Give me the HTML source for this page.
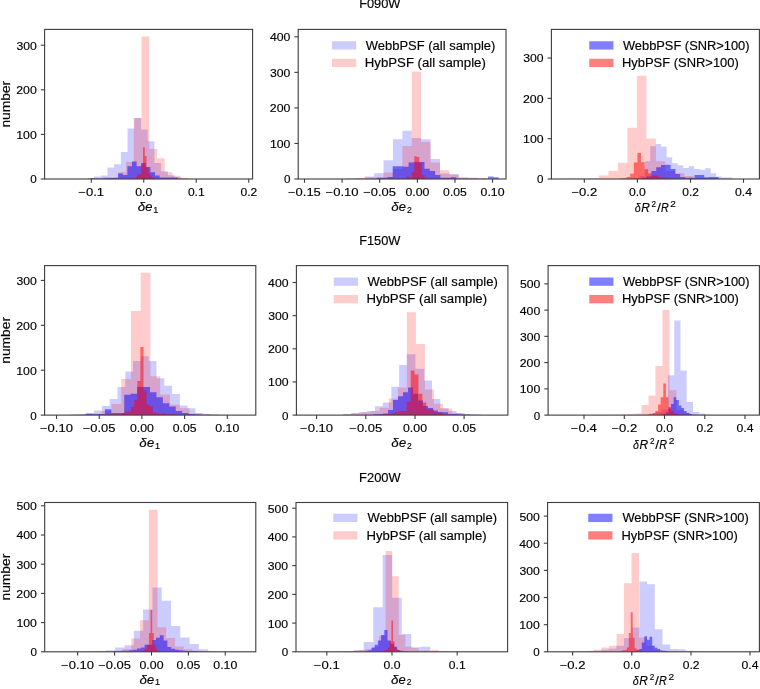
<!DOCTYPE html><html><head><meta charset="utf-8"><style>html,body{margin:0;padding:0;background:#fff;width:760px;height:689px;overflow:hidden}svg{display:block;will-change:transform}text{font-family:"Liberation Sans",sans-serif;stroke:#000;stroke-width:0.15px}</style></head><body>
<svg width="760" height="689" viewBox="0 0 760 689">
<rect width="760" height="689" fill="#fff"/>
<text x="359.15" y="8.30" font-size="12.0" textLength="41.29" lengthAdjust="spacingAndGlyphs" fill="#000">F090W</text>
<text x="359.15" y="245.30" font-size="12.0" textLength="41.29" lengthAdjust="spacingAndGlyphs" fill="#000">F150W</text>
<text x="359.14" y="481.90" font-size="12.0" textLength="41.60" lengthAdjust="spacingAndGlyphs" fill="#000">F200W</text>
<clipPath id="cp00"><rect x="44.6" y="29.4" width="208.0" height="149.6"/></clipPath>
<g clip-path="url(#cp00)">
<path d="M80.56,179.0L80.56,178.70L87.28,178.70L87.28,178.50L94.00,178.50L94.00,176.60L100.72,176.60L100.72,175.40L107.44,175.40L107.44,167.60L114.16,167.60L114.16,164.20L120.88,164.20L120.88,152.10L127.60,152.10L127.60,128.40L134.32,128.40L134.32,118.00L141.04,118.00L141.04,129.50L147.76,129.50L147.76,141.30L154.48,141.30L154.48,163.00L161.20,163.00L161.20,171.20L167.92,171.20L167.92,175.20L174.64,175.20L174.64,177.20L181.36,177.20L181.36,178.50L188.08,178.50L188.08,179.0Z" fill="#0000ff" fill-opacity="0.2"/>
<path d="M87.25,179.0L87.25,178.50L95.00,178.50L95.00,178.50L102.75,178.50L102.75,177.30L110.50,177.30L110.50,177.50L118.25,177.50L118.25,172.20L126.00,172.20L126.00,162.00L133.75,162.00L133.75,118.00L141.50,118.00L141.50,36.60L149.25,36.60L149.25,148.90L157.00,148.90L157.00,158.30L164.75,158.30L164.75,172.20L172.50,172.20L172.50,175.80L180.25,175.80L180.25,177.80L188.00,177.80L188.00,178.70L195.75,178.70L195.75,179.0Z" fill="#ff0000" fill-opacity="0.2"/>
<path d="M90.60,179.0L90.60,178.20L95.20,178.20L95.20,178.40L99.80,178.40L99.80,178.50L104.40,178.50L104.40,178.20L109.00,178.20L109.00,178.10L113.60,178.10L113.60,177.80L118.20,177.80L118.20,173.60L122.80,173.60L122.80,175.10L127.40,175.10L127.40,166.20L132.00,166.20L132.00,161.40L136.60,161.40L136.60,166.20L141.20,166.20L141.20,162.90L145.80,162.90L145.80,167.00L150.40,167.00L150.40,172.20L155.00,172.20L155.00,175.50L159.60,175.50L159.60,177.60L164.20,177.60L164.20,177.60L168.80,177.60L168.80,177.60L173.40,177.60L173.40,177.60L178.00,177.60L178.00,179.0Z" fill="#0000ff" fill-opacity="0.5"/>
<path d="M126.80,179.0L126.80,178.60L128.60,178.60L128.60,178.50L130.40,178.50L130.40,178.40L132.20,178.40L132.20,178.40L134.00,178.40L134.00,178.30L135.80,178.30L135.80,176.50L137.60,176.50L137.60,174.50L139.40,174.50L139.40,173.90L141.20,173.90L141.20,164.40L143.00,164.40L143.00,147.20L144.80,147.20L144.80,156.10L146.60,156.10L146.60,167.40L148.40,167.40L148.40,173.50L150.20,173.50L150.20,175.80L152.00,175.80L152.00,177.50L153.80,177.50L153.80,178.20L155.60,178.20L155.60,178.50L157.40,178.50L157.40,179.0Z" fill="#ff0000" fill-opacity="0.5"/>
</g>
<rect x="44.6" y="29.4" width="208.00" height="149.60" fill="none" stroke="#3c3c3c" stroke-width="1.1"/>
<line x1="40.80" y1="179.0" x2="44.6" y2="179.0" stroke="#3c3c3c" stroke-width="1.1"/>
<text x="30.29" y="183.40" font-size="11.6" textLength="6.45" lengthAdjust="spacingAndGlyphs" fill="#000">0</text>
<line x1="40.80" y1="134.4" x2="44.6" y2="134.4" stroke="#3c3c3c" stroke-width="1.1"/>
<text x="16.30" y="138.80" font-size="11.6" textLength="20.47" lengthAdjust="spacingAndGlyphs" fill="#000">100</text>
<line x1="40.80" y1="89.8" x2="44.6" y2="89.8" stroke="#3c3c3c" stroke-width="1.1"/>
<text x="16.23" y="94.20" font-size="11.6" textLength="20.55" lengthAdjust="spacingAndGlyphs" fill="#000">200</text>
<line x1="40.80" y1="45.2" x2="44.6" y2="45.2" stroke="#3c3c3c" stroke-width="1.1"/>
<text x="16.41" y="49.60" font-size="11.6" textLength="20.36" lengthAdjust="spacingAndGlyphs" fill="#000">300</text>
<line x1="91.25" y1="179.0" x2="91.25" y2="182.80" stroke="#3c3c3c" stroke-width="1.1"/>
<text x="78.34" y="195.80" font-size="11.6" textLength="25.81" lengthAdjust="spacingAndGlyphs" fill="#000">−0.1</text>
<line x1="143.75" y1="179.0" x2="143.75" y2="182.80" stroke="#3c3c3c" stroke-width="1.1"/>
<text x="135.25" y="195.80" font-size="11.6" textLength="16.99" lengthAdjust="spacingAndGlyphs" fill="#000">0.0</text>
<line x1="196.25" y1="179.0" x2="196.25" y2="182.80" stroke="#3c3c3c" stroke-width="1.1"/>
<text x="187.90" y="195.80" font-size="11.6" textLength="16.82" lengthAdjust="spacingAndGlyphs" fill="#000">0.1</text>
<line x1="248.75" y1="179.0" x2="248.75" y2="182.80" stroke="#3c3c3c" stroke-width="1.1"/>
<text x="240.44" y="195.80" font-size="11.6" textLength="16.76" lengthAdjust="spacingAndGlyphs" fill="#000">0.2</text>
<text x="137.77" y="210.80" font-size="12.4" font-style="italic" textLength="7.40" lengthAdjust="spacingAndGlyphs" fill="#000">δ</text>
<text x="145.37" y="210.80" font-size="12.4" font-style="italic" textLength="7.19" lengthAdjust="spacingAndGlyphs" fill="#000">e</text>
<text x="153.31" y="212.60" font-size="8.6" textLength="5.02" lengthAdjust="spacingAndGlyphs" fill="#000">1</text>
<g transform="translate(9.6,104.20) rotate(-90)">
<text x="-23.41" y="0" font-size="12.0" textLength="46.83" lengthAdjust="spacingAndGlyphs">number</text>
</g>
<clipPath id="cp01"><rect x="298.2" y="29.4" width="207.8" height="149.6"/></clipPath>
<g clip-path="url(#cp01)">
<path d="M345.88,179.0L345.88,178.60L355.29,178.60L355.29,178.30L364.70,178.30L364.70,176.50L374.11,176.50L374.11,173.30L383.52,173.30L383.52,160.30L392.93,160.30L392.93,139.30L402.34,139.30L402.34,130.80L411.75,130.80L411.75,137.90L421.16,137.90L421.16,139.20L430.57,139.20L430.57,159.10L439.98,159.10L439.98,173.50L449.39,173.50L449.39,174.10L458.80,174.10L458.80,177.80L468.21,177.80L468.21,177.80L477.62,177.80L477.62,178.70L487.03,178.70L487.03,179.0Z" fill="#0000ff" fill-opacity="0.2"/>
<path d="M345.88,179.0L345.88,178.70L355.29,178.70L355.29,178.00L364.70,178.00L364.70,177.30L374.11,177.30L374.11,177.60L383.52,177.60L383.52,172.50L392.93,172.50L392.93,169.00L402.34,169.00L402.34,145.90L411.75,145.90L411.75,71.50L421.16,71.50L421.16,142.00L430.57,142.00L430.57,162.60L439.98,162.60L439.98,170.20L449.39,170.20L449.39,174.80L458.80,174.80L458.80,177.30L468.21,177.30L468.21,178.50L477.62,178.50L477.62,178.10L487.03,178.10L487.03,179.0Z" fill="#ff0000" fill-opacity="0.2"/>
<path d="M371.50,179.0L371.50,178.70L376.80,178.70L376.80,177.80L382.10,177.80L382.10,177.80L387.40,177.80L387.40,176.90L392.70,176.90L392.70,166.20L398.00,166.20L398.00,166.20L403.30,166.20L403.30,166.80L408.60,166.80L408.60,162.50L413.90,162.50L413.90,161.90L419.20,161.90L419.20,161.90L424.50,161.90L424.50,168.80L429.80,168.80L429.80,171.00L435.10,171.00L435.10,175.00L440.40,175.00L440.40,177.80L445.70,177.80L445.70,177.80L451.00,177.80L451.00,177.20L456.30,177.20L456.30,178.70L461.60,178.70L461.60,178.70L466.90,178.70L466.90,178.70L472.20,178.70L472.20,178.70L477.50,178.70L477.50,179.00L482.80,179.00L482.80,178.80L488.10,178.80L488.10,176.60L493.40,176.60L493.40,177.20L498.70,177.20L498.70,179.0Z" fill="#0000ff" fill-opacity="0.5"/>
<path d="M401.80,179.0L401.80,178.50L404.30,178.50L404.30,178.20L406.80,178.20L406.80,176.60L409.30,176.60L409.30,177.80L411.80,177.80L411.80,172.10L414.30,172.10L414.30,156.20L416.80,156.20L416.80,157.00L419.30,157.00L419.30,163.10L421.80,163.10L421.80,175.30L424.30,175.30L424.30,177.50L426.80,177.50L426.80,178.00L429.30,178.00L429.30,178.20L431.80,178.20L431.80,178.50L434.30,178.50L434.30,179.0Z" fill="#ff0000" fill-opacity="0.5"/>
</g>
<rect x="298.2" y="29.4" width="207.80" height="149.60" fill="none" stroke="#3c3c3c" stroke-width="1.1"/>
<line x1="294.40" y1="179.0" x2="298.2" y2="179.0" stroke="#3c3c3c" stroke-width="1.1"/>
<text x="283.89" y="183.40" font-size="11.6" textLength="6.45" lengthAdjust="spacingAndGlyphs" fill="#000">0</text>
<line x1="294.40" y1="143.45" x2="298.2" y2="143.45" stroke="#3c3c3c" stroke-width="1.1"/>
<text x="269.90" y="147.85" font-size="11.6" textLength="20.47" lengthAdjust="spacingAndGlyphs" fill="#000">100</text>
<line x1="294.40" y1="107.9" x2="298.2" y2="107.9" stroke="#3c3c3c" stroke-width="1.1"/>
<text x="269.83" y="112.30" font-size="11.6" textLength="20.55" lengthAdjust="spacingAndGlyphs" fill="#000">200</text>
<line x1="294.40" y1="72.35" x2="298.2" y2="72.35" stroke="#3c3c3c" stroke-width="1.1"/>
<text x="270.01" y="76.75" font-size="11.6" textLength="20.36" lengthAdjust="spacingAndGlyphs" fill="#000">300</text>
<line x1="294.40" y1="36.8" x2="298.2" y2="36.8" stroke="#3c3c3c" stroke-width="1.1"/>
<text x="269.90" y="41.20" font-size="11.6" textLength="20.48" lengthAdjust="spacingAndGlyphs" fill="#000">400</text>
<line x1="304.5" y1="179.0" x2="304.5" y2="182.80" stroke="#3c3c3c" stroke-width="1.1"/>
<text x="288.07" y="195.80" font-size="11.6" textLength="32.76" lengthAdjust="spacingAndGlyphs" fill="#000">−0.15</text>
<line x1="342.1" y1="179.0" x2="342.1" y2="182.80" stroke="#3c3c3c" stroke-width="1.1"/>
<text x="325.55" y="195.80" font-size="11.6" textLength="32.96" lengthAdjust="spacingAndGlyphs" fill="#000">−0.10</text>
<line x1="379.7" y1="179.0" x2="379.7" y2="182.80" stroke="#3c3c3c" stroke-width="1.1"/>
<text x="363.27" y="195.80" font-size="11.6" textLength="32.76" lengthAdjust="spacingAndGlyphs" fill="#000">−0.05</text>
<line x1="417.4" y1="179.0" x2="417.4" y2="182.80" stroke="#3c3c3c" stroke-width="1.1"/>
<text x="405.40" y="195.80" font-size="11.6" textLength="24.00" lengthAdjust="spacingAndGlyphs" fill="#000">0.00</text>
<line x1="455.0" y1="179.0" x2="455.0" y2="182.80" stroke="#3c3c3c" stroke-width="1.1"/>
<text x="443.12" y="195.80" font-size="11.6" textLength="23.80" lengthAdjust="spacingAndGlyphs" fill="#000">0.05</text>
<line x1="492.6" y1="179.0" x2="492.6" y2="182.80" stroke="#3c3c3c" stroke-width="1.1"/>
<text x="480.60" y="195.80" font-size="11.6" textLength="24.00" lengthAdjust="spacingAndGlyphs" fill="#000">0.10</text>
<text x="391.27" y="210.80" font-size="12.4" font-style="italic" textLength="7.40" lengthAdjust="spacingAndGlyphs" fill="#000">δ</text>
<text x="398.87" y="210.80" font-size="12.4" font-style="italic" textLength="7.19" lengthAdjust="spacingAndGlyphs" fill="#000">e</text>
<text x="407.07" y="212.60" font-size="8.6" textLength="4.76" lengthAdjust="spacingAndGlyphs" fill="#000">2</text>
<clipPath id="cp02"><rect x="551.4" y="29.4" width="208.0" height="149.6"/></clipPath>
<g clip-path="url(#cp02)">
<path d="M628.20,179.0L628.20,178.50L633.70,178.50L633.70,178.00L639.20,178.00L639.20,176.00L644.70,176.00L644.70,161.20L650.20,161.20L650.20,146.20L655.70,146.20L655.70,144.10L661.20,144.10L661.20,146.80L666.70,146.80L666.70,157.30L672.20,157.30L672.20,163.20L677.70,163.20L677.70,165.20L683.20,165.20L683.20,167.90L688.70,167.90L688.70,166.30L694.20,166.30L694.20,169.10L699.70,169.10L699.70,169.70L705.20,169.70L705.20,168.30L710.70,168.30L710.70,173.30L716.20,173.30L716.20,176.60L721.70,176.60L721.70,177.60L727.20,177.60L727.20,177.60L732.70,177.60L732.70,179.0Z" fill="#0000ff" fill-opacity="0.2"/>
<path d="M560.90,179.0L560.90,178.40L570.40,178.40L570.40,178.40L579.90,178.40L579.90,178.40L589.40,178.40L589.40,178.20L598.90,178.20L598.90,175.60L608.40,175.60L608.40,170.80L617.90,170.80L617.90,162.70L627.40,162.70L627.40,127.80L636.90,127.80L636.90,75.70L646.40,75.70L646.40,138.50L655.90,138.50L655.90,161.20L665.40,161.20L665.40,171.00L674.90,171.00L674.90,173.30L684.40,173.30L684.40,176.00L693.90,176.00L693.90,178.00L703.40,178.00L703.40,178.60L712.90,178.60L712.90,178.60L722.40,178.60L722.40,178.60L731.90,178.60L731.90,179.0Z" fill="#ff0000" fill-opacity="0.2"/>
<path d="M641.80,179.0L641.80,178.00L646.60,178.00L646.60,176.50L651.40,176.50L651.40,171.10L656.20,171.10L656.20,167.20L661.00,167.20L661.00,165.00L665.80,165.00L665.80,164.80L670.60,164.80L670.60,169.10L675.40,169.10L675.40,173.90L680.20,173.90L680.20,177.00L685.00,177.00L685.00,177.80L689.80,177.80L689.80,177.80L694.60,177.80L694.60,175.00L699.40,175.00L699.40,175.00L704.20,175.00L704.20,177.30L709.00,177.30L709.00,177.00L713.80,177.00L713.80,177.00L718.60,177.00L718.60,179.0Z" fill="#0000ff" fill-opacity="0.5"/>
<path d="M619.40,179.0L619.40,178.40L623.00,178.40L623.00,178.20L626.60,178.20L626.60,177.00L630.20,177.00L630.20,173.70L633.80,173.70L633.80,162.40L637.40,162.40L637.40,153.10L641.00,153.10L641.00,162.20L644.60,162.20L644.60,169.20L648.20,169.20L648.20,173.50L651.80,173.50L651.80,175.80L655.40,175.80L655.40,175.80L659.00,175.80L659.00,177.40L662.60,177.40L662.60,177.40L666.20,177.40L666.20,178.00L669.80,178.00L669.80,178.50L673.40,178.50L673.40,179.0Z" fill="#ff0000" fill-opacity="0.5"/>
</g>
<rect x="551.4" y="29.4" width="208.00" height="149.60" fill="none" stroke="#3c3c3c" stroke-width="1.1"/>
<line x1="547.60" y1="179.0" x2="551.4" y2="179.0" stroke="#3c3c3c" stroke-width="1.1"/>
<text x="537.09" y="183.40" font-size="11.6" textLength="6.45" lengthAdjust="spacingAndGlyphs" fill="#000">0</text>
<line x1="547.60" y1="138.7" x2="551.4" y2="138.7" stroke="#3c3c3c" stroke-width="1.1"/>
<text x="523.10" y="143.10" font-size="11.6" textLength="20.47" lengthAdjust="spacingAndGlyphs" fill="#000">100</text>
<line x1="547.60" y1="98.4" x2="551.4" y2="98.4" stroke="#3c3c3c" stroke-width="1.1"/>
<text x="523.03" y="102.80" font-size="11.6" textLength="20.55" lengthAdjust="spacingAndGlyphs" fill="#000">200</text>
<line x1="547.60" y1="58.05" x2="551.4" y2="58.05" stroke="#3c3c3c" stroke-width="1.1"/>
<text x="523.21" y="62.45" font-size="11.6" textLength="20.36" lengthAdjust="spacingAndGlyphs" fill="#000">300</text>
<line x1="584.3" y1="179.0" x2="584.3" y2="182.80" stroke="#3c3c3c" stroke-width="1.1"/>
<text x="571.43" y="195.80" font-size="11.6" textLength="25.76" lengthAdjust="spacingAndGlyphs" fill="#000">−0.2</text>
<line x1="637.4" y1="179.0" x2="637.4" y2="182.80" stroke="#3c3c3c" stroke-width="1.1"/>
<text x="628.90" y="195.80" font-size="11.6" textLength="16.99" lengthAdjust="spacingAndGlyphs" fill="#000">0.0</text>
<line x1="690.5" y1="179.0" x2="690.5" y2="182.80" stroke="#3c3c3c" stroke-width="1.1"/>
<text x="682.19" y="195.80" font-size="11.6" textLength="16.76" lengthAdjust="spacingAndGlyphs" fill="#000">0.2</text>
<line x1="743.5" y1="179.0" x2="743.5" y2="182.80" stroke="#3c3c3c" stroke-width="1.1"/>
<text x="734.94" y="195.80" font-size="11.6" textLength="17.00" lengthAdjust="spacingAndGlyphs" fill="#000">0.4</text>
<text x="634.76" y="212.40" font-size="12.4" font-style="italic" textLength="5.94" lengthAdjust="spacingAndGlyphs" fill="#000">δ</text>
<text x="641.14" y="212.40" font-size="12.4" font-style="italic" textLength="8.62" lengthAdjust="spacingAndGlyphs" fill="#000">R</text>
<text x="651.59" y="207.40" font-size="8.6" textLength="4.51" lengthAdjust="spacingAndGlyphs" fill="#000">2</text>
<text x="657.00" y="212.40" font-size="12.4" textLength="3.90" lengthAdjust="spacingAndGlyphs" fill="#000">/</text>
<text x="660.98" y="212.40" font-size="12.4" font-style="italic" textLength="7.75" lengthAdjust="spacingAndGlyphs" fill="#000">R</text>
<text x="670.30" y="207.40" font-size="8.6" textLength="5.61" lengthAdjust="spacingAndGlyphs" fill="#000">2</text>
<clipPath id="cp10"><rect x="44.6" y="265.6" width="211.20000000000002" height="149.5"/></clipPath>
<g clip-path="url(#cp10)">
<path d="M70.70,415.1L70.70,414.60L78.50,414.60L78.50,414.10L86.30,414.10L86.30,413.10L94.10,413.10L94.10,410.60L101.90,410.60L101.90,406.00L109.70,406.00L109.70,399.10L117.50,399.10L117.50,387.10L125.30,387.10L125.30,371.60L133.10,371.60L133.10,361.10L140.90,361.10L140.90,356.30L148.70,356.30L148.70,360.90L156.50,360.90L156.50,378.20L164.30,378.20L164.30,385.80L172.10,385.80L172.10,394.00L179.90,394.00L179.90,405.40L187.70,405.40L187.70,408.30L195.50,408.30L195.50,413.10L203.30,413.10L203.30,414.10L211.10,414.10L211.10,414.60L218.90,414.60L218.90,415.1Z" fill="#0000ff" fill-opacity="0.2"/>
<path d="M62.70,415.1L62.70,414.70L72.45,414.70L72.45,414.60L82.20,414.60L82.20,414.30L91.95,414.30L91.95,413.60L101.70,413.60L101.70,411.10L111.45,411.10L111.45,404.10L121.20,404.10L121.20,379.00L130.95,379.00L130.95,311.10L140.70,311.10L140.70,272.80L150.45,272.80L150.45,376.30L160.20,376.30L160.20,394.60L169.95,394.60L169.95,404.70L179.70,404.70L179.70,408.30L189.45,408.30L189.45,413.60L199.20,413.60L199.20,414.10L208.95,414.10L208.95,414.60L218.70,414.60L218.70,415.1Z" fill="#ff0000" fill-opacity="0.2"/>
<path d="M85.58,415.1L85.58,413.70L92.02,413.70L92.02,414.30L98.46,414.30L98.46,414.10L104.90,414.10L104.90,409.20L111.34,409.20L111.34,413.10L117.78,413.10L117.78,413.10L124.22,413.10L124.22,394.70L130.66,394.70L130.66,393.80L137.10,393.80L137.10,386.90L143.54,386.90L143.54,386.90L149.98,386.90L149.98,392.30L156.42,392.30L156.42,397.20L162.86,397.20L162.86,403.20L169.30,403.20L169.30,406.60L175.74,406.60L175.74,411.10L182.18,411.10L182.18,413.00L188.62,413.00L188.62,414.10L195.06,414.10L195.06,414.60L201.50,414.60L201.50,415.1Z" fill="#0000ff" fill-opacity="0.5"/>
<path d="M106.30,415.1L106.30,414.50L109.40,414.50L109.40,414.30L112.50,414.30L112.50,414.50L115.60,414.50L115.60,414.30L118.70,414.30L118.70,414.10L121.80,414.10L121.80,413.10L124.90,413.10L124.90,411.70L128.00,411.70L128.00,411.50L131.10,411.50L131.10,407.10L134.20,407.10L134.20,400.10L137.30,400.10L137.30,381.00L140.40,381.00L140.40,347.10L143.50,347.10L143.50,390.40L146.60,390.40L146.60,404.50L149.70,404.50L149.70,406.30L152.80,406.30L152.80,412.60L155.90,412.60L155.90,413.00L159.00,413.00L159.00,414.10L162.10,414.10L162.10,413.60L165.20,413.60L165.20,414.60L168.30,414.60L168.30,414.60L171.40,414.60L171.40,414.10L174.50,414.10L174.50,414.60L177.60,414.60L177.60,415.1Z" fill="#ff0000" fill-opacity="0.5"/>
</g>
<rect x="44.6" y="265.6" width="211.20" height="149.50" fill="none" stroke="#3c3c3c" stroke-width="1.1"/>
<line x1="40.80" y1="415.1" x2="44.6" y2="415.1" stroke="#3c3c3c" stroke-width="1.1"/>
<text x="30.29" y="419.50" font-size="11.6" textLength="6.45" lengthAdjust="spacingAndGlyphs" fill="#000">0</text>
<line x1="40.80" y1="370.2" x2="44.6" y2="370.2" stroke="#3c3c3c" stroke-width="1.1"/>
<text x="16.30" y="374.60" font-size="11.6" textLength="20.47" lengthAdjust="spacingAndGlyphs" fill="#000">100</text>
<line x1="40.80" y1="325.3" x2="44.6" y2="325.3" stroke="#3c3c3c" stroke-width="1.1"/>
<text x="16.23" y="329.70" font-size="11.6" textLength="20.55" lengthAdjust="spacingAndGlyphs" fill="#000">200</text>
<line x1="40.80" y1="280.4" x2="44.6" y2="280.4" stroke="#3c3c3c" stroke-width="1.1"/>
<text x="16.41" y="284.80" font-size="11.6" textLength="20.36" lengthAdjust="spacingAndGlyphs" fill="#000">300</text>
<line x1="56.5" y1="415.1" x2="56.5" y2="418.90" stroke="#3c3c3c" stroke-width="1.1"/>
<text x="39.95" y="431.90" font-size="11.6" textLength="32.96" lengthAdjust="spacingAndGlyphs" fill="#000">−0.10</text>
<line x1="99.2" y1="415.1" x2="99.2" y2="418.90" stroke="#3c3c3c" stroke-width="1.1"/>
<text x="82.77" y="431.90" font-size="11.6" textLength="32.76" lengthAdjust="spacingAndGlyphs" fill="#000">−0.05</text>
<line x1="141.9" y1="415.1" x2="141.9" y2="418.90" stroke="#3c3c3c" stroke-width="1.1"/>
<text x="129.90" y="431.90" font-size="11.6" textLength="24.00" lengthAdjust="spacingAndGlyphs" fill="#000">0.00</text>
<line x1="184.6" y1="415.1" x2="184.6" y2="418.90" stroke="#3c3c3c" stroke-width="1.1"/>
<text x="172.72" y="431.90" font-size="11.6" textLength="23.80" lengthAdjust="spacingAndGlyphs" fill="#000">0.05</text>
<line x1="227.3" y1="415.1" x2="227.3" y2="418.90" stroke="#3c3c3c" stroke-width="1.1"/>
<text x="215.30" y="431.90" font-size="11.6" textLength="24.00" lengthAdjust="spacingAndGlyphs" fill="#000">0.10</text>
<text x="139.37" y="446.90" font-size="12.4" font-style="italic" textLength="7.40" lengthAdjust="spacingAndGlyphs" fill="#000">δ</text>
<text x="146.97" y="446.90" font-size="12.4" font-style="italic" textLength="7.19" lengthAdjust="spacingAndGlyphs" fill="#000">e</text>
<text x="154.91" y="448.70" font-size="8.6" textLength="5.02" lengthAdjust="spacingAndGlyphs" fill="#000">1</text>
<g transform="translate(9.6,340.35) rotate(-90)">
<text x="-23.41" y="0" font-size="12.0" textLength="46.83" lengthAdjust="spacingAndGlyphs">number</text>
</g>
<clipPath id="cp11"><rect x="296.4" y="265.6" width="211.5" height="149.5"/></clipPath>
<g clip-path="url(#cp11)">
<path d="M343.00,415.1L343.00,414.10L351.00,414.10L351.00,413.10L359.00,413.10L359.00,412.10L367.00,412.10L367.00,411.10L375.00,411.10L375.00,406.20L382.80,406.20L382.80,402.40L391.30,402.40L391.30,386.80L399.10,386.80L399.10,365.10L406.80,365.10L406.80,354.20L415.50,354.20L415.50,368.70L424.30,368.70L424.30,380.50L432.00,380.50L432.00,399.10L440.30,399.10L440.30,408.30L448.50,408.30L448.50,411.10L456.70,411.10L456.70,413.00L464.90,413.00L464.90,414.10L473.10,414.10L473.10,414.60L481.30,414.60L481.30,415.1Z" fill="#0000ff" fill-opacity="0.2"/>
<path d="M343.50,415.1L343.50,414.60L352.55,414.60L352.55,413.60L361.60,413.60L361.60,412.60L370.65,412.60L370.65,411.10L379.70,411.10L379.70,407.80L388.75,407.80L388.75,398.50L397.80,398.50L397.80,387.60L406.85,387.60L406.85,312.30L415.90,312.30L415.90,344.10L424.95,344.10L424.95,389.60L434.00,389.60L434.00,403.70L443.05,403.70L443.05,408.50L452.10,408.50L452.10,413.00L461.15,413.00L461.15,414.10L470.20,414.10L470.20,414.70L479.25,414.70L479.25,415.1Z" fill="#ff0000" fill-opacity="0.2"/>
<path d="M373.00,415.1L373.00,414.30L378.00,414.30L378.00,414.10L383.00,414.10L383.00,413.60L388.00,413.60L388.00,410.10L393.00,410.10L393.00,400.10L398.00,400.10L398.00,396.20L403.00,396.20L403.00,392.30L408.00,392.30L408.00,387.60L413.00,387.60L413.00,393.80L418.00,393.80L418.00,400.60L423.00,400.60L423.00,406.00L428.00,406.00L428.00,408.10L433.00,408.10L433.00,410.40L438.00,410.40L438.00,412.10L443.00,412.10L443.00,412.30L448.00,412.30L448.00,414.10L453.00,414.10L453.00,414.10L458.00,414.10L458.00,414.60L463.00,414.60L463.00,415.1Z" fill="#0000ff" fill-opacity="0.5"/>
<path d="M383.40,415.1L383.40,414.30L387.30,414.30L387.30,413.90L391.20,413.90L391.20,413.10L395.10,413.10L395.10,412.10L399.00,412.10L399.00,410.90L402.90,410.90L402.90,410.90L406.80,410.90L406.80,401.60L410.70,401.60L410.70,370.50L414.60,370.50L414.60,374.40L418.50,374.40L418.50,393.80L422.40,393.80L422.40,402.40L426.30,402.40L426.30,409.50L430.20,409.50L430.20,409.50L434.10,409.50L434.10,412.60L438.00,412.60L438.00,412.60L441.90,412.60L441.90,414.10L445.80,414.10L445.80,414.50L449.70,414.50L449.70,415.1Z" fill="#ff0000" fill-opacity="0.5"/>
</g>
<rect x="296.4" y="265.6" width="211.50" height="149.50" fill="none" stroke="#3c3c3c" stroke-width="1.1"/>
<line x1="292.60" y1="415.1" x2="296.4" y2="415.1" stroke="#3c3c3c" stroke-width="1.1"/>
<text x="282.09" y="419.50" font-size="11.6" textLength="6.45" lengthAdjust="spacingAndGlyphs" fill="#000">0</text>
<line x1="292.60" y1="381.95" x2="296.4" y2="381.95" stroke="#3c3c3c" stroke-width="1.1"/>
<text x="268.10" y="386.35" font-size="11.6" textLength="20.47" lengthAdjust="spacingAndGlyphs" fill="#000">100</text>
<line x1="292.60" y1="348.8" x2="296.4" y2="348.8" stroke="#3c3c3c" stroke-width="1.1"/>
<text x="268.03" y="353.20" font-size="11.6" textLength="20.55" lengthAdjust="spacingAndGlyphs" fill="#000">200</text>
<line x1="292.60" y1="315.65" x2="296.4" y2="315.65" stroke="#3c3c3c" stroke-width="1.1"/>
<text x="268.21" y="320.05" font-size="11.6" textLength="20.36" lengthAdjust="spacingAndGlyphs" fill="#000">300</text>
<line x1="292.60" y1="282.5" x2="296.4" y2="282.5" stroke="#3c3c3c" stroke-width="1.1"/>
<text x="268.10" y="286.90" font-size="11.6" textLength="20.48" lengthAdjust="spacingAndGlyphs" fill="#000">400</text>
<line x1="316.6" y1="415.1" x2="316.6" y2="418.90" stroke="#3c3c3c" stroke-width="1.1"/>
<text x="300.05" y="431.90" font-size="11.6" textLength="32.96" lengthAdjust="spacingAndGlyphs" fill="#000">−0.10</text>
<line x1="365.8" y1="415.1" x2="365.8" y2="418.90" stroke="#3c3c3c" stroke-width="1.1"/>
<text x="349.37" y="431.90" font-size="11.6" textLength="32.76" lengthAdjust="spacingAndGlyphs" fill="#000">−0.05</text>
<line x1="415.0" y1="415.1" x2="415.0" y2="418.90" stroke="#3c3c3c" stroke-width="1.1"/>
<text x="403.00" y="431.90" font-size="11.6" textLength="24.00" lengthAdjust="spacingAndGlyphs" fill="#000">0.00</text>
<line x1="464.1" y1="415.1" x2="464.1" y2="418.90" stroke="#3c3c3c" stroke-width="1.1"/>
<text x="452.22" y="431.90" font-size="11.6" textLength="23.80" lengthAdjust="spacingAndGlyphs" fill="#000">0.05</text>
<text x="391.32" y="446.90" font-size="12.4" font-style="italic" textLength="7.40" lengthAdjust="spacingAndGlyphs" fill="#000">δ</text>
<text x="398.92" y="446.90" font-size="12.4" font-style="italic" textLength="7.19" lengthAdjust="spacingAndGlyphs" fill="#000">e</text>
<text x="407.12" y="448.70" font-size="8.6" textLength="4.76" lengthAdjust="spacingAndGlyphs" fill="#000">2</text>
<clipPath id="cp12"><rect x="548.1" y="265.6" width="211.29999999999995" height="149.5"/></clipPath>
<g clip-path="url(#cp12)">
<path d="M636.70,415.1L636.70,414.70L642.95,414.70L642.95,414.40L649.20,414.40L649.20,413.60L655.45,413.60L655.45,411.90L661.70,411.90L661.70,409.40L667.95,409.40L667.95,375.30L674.20,375.30L674.20,320.40L680.45,320.40L680.45,370.40L686.70,370.40L686.70,402.10L692.95,402.10L692.95,411.90L699.20,411.90L699.20,413.60L705.45,413.60L705.45,414.60L711.70,414.60L711.70,415.1Z" fill="#0000ff" fill-opacity="0.2"/>
<path d="M613.50,415.1L613.50,414.80L620.50,414.80L620.50,414.60L627.50,414.60L627.50,414.10L634.50,414.10L634.50,413.50L641.50,413.50L641.50,404.90L648.50,404.90L648.50,395.60L655.50,395.60L655.50,365.90L662.50,365.90L662.50,310.00L669.50,310.00L669.50,390.30L676.50,390.30L676.50,410.10L683.50,410.10L683.50,412.60L690.50,412.60L690.50,414.10L697.50,414.10L697.50,415.1Z" fill="#ff0000" fill-opacity="0.2"/>
<path d="M660.60,415.1L660.60,414.50L663.20,414.50L663.20,414.10L665.80,414.10L665.80,412.60L668.40,412.60L668.40,408.60L671.00,408.60L671.00,404.10L673.60,404.10L673.60,397.20L676.20,397.20L676.20,400.10L678.80,400.10L678.80,405.40L681.40,405.40L681.40,408.10L684.00,408.10L684.00,411.10L686.60,411.10L686.60,413.10L689.20,413.10L689.20,414.10L691.80,414.10L691.80,415.1Z" fill="#0000ff" fill-opacity="0.5"/>
<path d="M647.70,415.1L647.70,414.50L650.30,414.50L650.30,414.10L652.90,414.10L652.90,413.10L655.50,413.10L655.50,411.10L658.10,411.10L658.10,404.50L660.70,404.50L660.70,397.20L663.30,397.20L663.30,383.40L665.90,383.40L665.90,397.20L668.50,397.20L668.50,407.00L671.10,407.00L671.10,411.10L673.70,411.10L673.70,413.10L676.30,413.10L676.30,414.10L678.90,414.10L678.90,415.1Z" fill="#ff0000" fill-opacity="0.5"/>
</g>
<rect x="548.1" y="265.6" width="211.30" height="149.50" fill="none" stroke="#3c3c3c" stroke-width="1.1"/>
<line x1="544.30" y1="415.1" x2="548.1" y2="415.1" stroke="#3c3c3c" stroke-width="1.1"/>
<text x="533.79" y="419.50" font-size="11.6" textLength="6.45" lengthAdjust="spacingAndGlyphs" fill="#000">0</text>
<line x1="544.30" y1="388.85" x2="548.1" y2="388.85" stroke="#3c3c3c" stroke-width="1.1"/>
<text x="519.80" y="393.25" font-size="11.6" textLength="20.47" lengthAdjust="spacingAndGlyphs" fill="#000">100</text>
<line x1="544.30" y1="362.6" x2="548.1" y2="362.6" stroke="#3c3c3c" stroke-width="1.1"/>
<text x="519.73" y="367.00" font-size="11.6" textLength="20.55" lengthAdjust="spacingAndGlyphs" fill="#000">200</text>
<line x1="544.30" y1="336.35" x2="548.1" y2="336.35" stroke="#3c3c3c" stroke-width="1.1"/>
<text x="519.91" y="340.75" font-size="11.6" textLength="20.36" lengthAdjust="spacingAndGlyphs" fill="#000">300</text>
<line x1="544.30" y1="310.1" x2="548.1" y2="310.1" stroke="#3c3c3c" stroke-width="1.1"/>
<text x="519.80" y="314.50" font-size="11.6" textLength="20.48" lengthAdjust="spacingAndGlyphs" fill="#000">400</text>
<line x1="544.30" y1="283.85" x2="548.1" y2="283.85" stroke="#3c3c3c" stroke-width="1.1"/>
<text x="519.90" y="288.25" font-size="11.6" textLength="20.37" lengthAdjust="spacingAndGlyphs" fill="#000">500</text>
<line x1="584.0" y1="415.1" x2="584.0" y2="418.90" stroke="#3c3c3c" stroke-width="1.1"/>
<text x="570.88" y="431.90" font-size="11.6" textLength="25.98" lengthAdjust="spacingAndGlyphs" fill="#000">−0.4</text>
<line x1="624.3" y1="415.1" x2="624.3" y2="418.90" stroke="#3c3c3c" stroke-width="1.1"/>
<text x="611.43" y="431.90" font-size="11.6" textLength="25.76" lengthAdjust="spacingAndGlyphs" fill="#000">−0.2</text>
<line x1="664.5" y1="415.1" x2="664.5" y2="418.90" stroke="#3c3c3c" stroke-width="1.1"/>
<text x="656.00" y="431.90" font-size="11.6" textLength="16.99" lengthAdjust="spacingAndGlyphs" fill="#000">0.0</text>
<line x1="704.8" y1="415.1" x2="704.8" y2="418.90" stroke="#3c3c3c" stroke-width="1.1"/>
<text x="696.49" y="431.90" font-size="11.6" textLength="16.76" lengthAdjust="spacingAndGlyphs" fill="#000">0.2</text>
<line x1="745.0" y1="415.1" x2="745.0" y2="418.90" stroke="#3c3c3c" stroke-width="1.1"/>
<text x="736.44" y="431.90" font-size="11.6" textLength="17.00" lengthAdjust="spacingAndGlyphs" fill="#000">0.4</text>
<text x="633.11" y="448.50" font-size="12.4" font-style="italic" textLength="5.94" lengthAdjust="spacingAndGlyphs" fill="#000">δ</text>
<text x="639.49" y="448.50" font-size="12.4" font-style="italic" textLength="8.62" lengthAdjust="spacingAndGlyphs" fill="#000">R</text>
<text x="649.94" y="443.50" font-size="8.6" textLength="4.51" lengthAdjust="spacingAndGlyphs" fill="#000">2</text>
<text x="655.35" y="448.50" font-size="12.4" textLength="3.90" lengthAdjust="spacingAndGlyphs" fill="#000">/</text>
<text x="659.33" y="448.50" font-size="12.4" font-style="italic" textLength="7.75" lengthAdjust="spacingAndGlyphs" fill="#000">R</text>
<text x="668.65" y="443.50" font-size="8.6" textLength="5.61" lengthAdjust="spacingAndGlyphs" fill="#000">2</text>
<clipPath id="cp20"><rect x="44.7" y="502.5" width="211.10000000000002" height="149.29999999999995"/></clipPath>
<g clip-path="url(#cp20)">
<path d="M87.30,651.8L87.30,651.30L96.60,651.30L96.60,651.10L105.90,651.10L105.90,650.30L115.20,650.30L115.20,647.60L124.50,647.60L124.50,645.30L133.80,645.30L133.80,630.80L143.10,630.80L143.10,609.40L152.40,609.40L152.40,587.40L161.70,587.40L161.70,600.80L171.00,600.80L171.00,626.00L180.30,626.00L180.30,637.50L189.60,637.50L189.60,644.00L198.90,644.00L198.90,649.30L208.20,649.30L208.20,650.90L217.50,650.90L217.50,651.8Z" fill="#0000ff" fill-opacity="0.2"/>
<path d="M96.30,651.8L96.30,651.50L105.05,651.50L105.05,651.30L113.80,651.30L113.80,650.80L122.55,650.80L122.55,649.10L131.30,649.10L131.30,638.40L140.05,638.40L140.05,620.30L148.80,620.30L148.80,509.80L157.55,509.80L157.55,627.30L166.30,627.30L166.30,638.10L175.05,638.10L175.05,646.60L183.80,646.60L183.80,649.30L192.55,649.30L192.55,650.40L201.30,650.40L201.30,651.10L210.05,651.10L210.05,651.8Z" fill="#ff0000" fill-opacity="0.2"/>
<path d="M114.20,651.8L114.20,651.20L118.00,651.20L118.00,651.00L121.80,651.00L121.80,650.80L125.60,650.80L125.60,650.80L129.40,650.80L129.40,650.30L133.20,650.30L133.20,649.70L137.00,649.70L137.00,648.60L140.80,648.60L140.80,647.50L144.60,647.50L144.60,644.80L148.40,644.80L148.40,644.80L152.20,644.80L152.20,640.00L156.00,640.00L156.00,637.80L159.80,637.80L159.80,635.20L163.60,635.20L163.60,640.50L167.40,640.50L167.40,647.00L171.20,647.00L171.20,648.80L175.00,648.80L175.00,649.80L178.80,649.80L178.80,650.30L182.60,650.30L182.60,650.80L186.40,650.80L186.40,651.10L190.20,651.10L190.20,651.10L194.00,651.10L194.00,651.30L197.80,651.30L197.80,651.8Z" fill="#0000ff" fill-opacity="0.5"/>
<path d="M141.00,651.8L141.00,651.20L142.60,651.20L142.60,650.80L144.20,650.80L144.20,649.80L145.80,649.80L145.80,648.60L147.40,648.60L147.40,644.80L149.00,644.80L149.00,633.00L150.60,633.00L150.60,609.90L152.20,609.90L152.20,633.00L153.80,633.00L153.80,644.80L155.40,644.80L155.40,648.60L157.00,648.60L157.00,650.30L158.60,650.30L158.60,650.80L160.20,650.80L160.20,651.8Z" fill="#ff0000" fill-opacity="0.5"/>
</g>
<rect x="44.7" y="502.5" width="211.10" height="149.30" fill="none" stroke="#3c3c3c" stroke-width="1.1"/>
<line x1="40.90" y1="651.8" x2="44.7" y2="651.8" stroke="#3c3c3c" stroke-width="1.1"/>
<text x="30.39" y="656.20" font-size="11.6" textLength="6.45" lengthAdjust="spacingAndGlyphs" fill="#000">0</text>
<line x1="40.90" y1="622.6" x2="44.7" y2="622.6" stroke="#3c3c3c" stroke-width="1.1"/>
<text x="16.40" y="627.00" font-size="11.6" textLength="20.47" lengthAdjust="spacingAndGlyphs" fill="#000">100</text>
<line x1="40.90" y1="593.4" x2="44.7" y2="593.4" stroke="#3c3c3c" stroke-width="1.1"/>
<text x="16.33" y="597.80" font-size="11.6" textLength="20.55" lengthAdjust="spacingAndGlyphs" fill="#000">200</text>
<line x1="40.90" y1="564.2" x2="44.7" y2="564.2" stroke="#3c3c3c" stroke-width="1.1"/>
<text x="16.51" y="568.60" font-size="11.6" textLength="20.36" lengthAdjust="spacingAndGlyphs" fill="#000">300</text>
<line x1="40.90" y1="535.0" x2="44.7" y2="535.0" stroke="#3c3c3c" stroke-width="1.1"/>
<text x="16.40" y="539.40" font-size="11.6" textLength="20.48" lengthAdjust="spacingAndGlyphs" fill="#000">400</text>
<line x1="40.90" y1="505.8" x2="44.7" y2="505.8" stroke="#3c3c3c" stroke-width="1.1"/>
<text x="16.50" y="510.20" font-size="11.6" textLength="20.37" lengthAdjust="spacingAndGlyphs" fill="#000">500</text>
<line x1="77.6" y1="651.8" x2="77.6" y2="655.60" stroke="#3c3c3c" stroke-width="1.1"/>
<text x="61.05" y="668.60" font-size="11.6" textLength="32.96" lengthAdjust="spacingAndGlyphs" fill="#000">−0.10</text>
<line x1="114.6" y1="651.8" x2="114.6" y2="655.60" stroke="#3c3c3c" stroke-width="1.1"/>
<text x="98.17" y="668.60" font-size="11.6" textLength="32.76" lengthAdjust="spacingAndGlyphs" fill="#000">−0.05</text>
<line x1="151.5" y1="651.8" x2="151.5" y2="655.60" stroke="#3c3c3c" stroke-width="1.1"/>
<text x="139.50" y="668.60" font-size="11.6" textLength="24.00" lengthAdjust="spacingAndGlyphs" fill="#000">0.00</text>
<line x1="188.4" y1="651.8" x2="188.4" y2="655.60" stroke="#3c3c3c" stroke-width="1.1"/>
<text x="176.52" y="668.60" font-size="11.6" textLength="23.80" lengthAdjust="spacingAndGlyphs" fill="#000">0.05</text>
<line x1="225.3" y1="651.8" x2="225.3" y2="655.60" stroke="#3c3c3c" stroke-width="1.1"/>
<text x="213.30" y="668.60" font-size="11.6" textLength="24.00" lengthAdjust="spacingAndGlyphs" fill="#000">0.10</text>
<text x="139.42" y="683.60" font-size="12.4" font-style="italic" textLength="7.40" lengthAdjust="spacingAndGlyphs" fill="#000">δ</text>
<text x="147.02" y="683.60" font-size="12.4" font-style="italic" textLength="7.19" lengthAdjust="spacingAndGlyphs" fill="#000">e</text>
<text x="154.96" y="685.40" font-size="8.6" textLength="5.02" lengthAdjust="spacingAndGlyphs" fill="#000">1</text>
<g transform="translate(9.6,577.15) rotate(-90)">
<text x="-23.41" y="0" font-size="12.0" textLength="46.83" lengthAdjust="spacingAndGlyphs">number</text>
</g>
<clipPath id="cp21"><rect x="296.0" y="502.5" width="211.60000000000002" height="149.29999999999995"/></clipPath>
<g clip-path="url(#cp21)">
<path d="M335.20,651.8L335.20,651.30L344.70,651.30L344.70,651.00L354.20,651.00L354.20,649.90L363.70,649.90L363.70,642.00L373.20,642.00L373.20,607.20L382.70,607.20L382.70,555.00L392.20,555.00L392.20,597.70L401.70,597.70L401.70,634.00L411.20,634.00L411.20,647.20L420.70,647.20L420.70,646.70L430.20,646.70L430.20,651.20L439.70,651.20L439.70,651.8Z" fill="#0000ff" fill-opacity="0.2"/>
<path d="M346.00,651.8L346.00,651.30L352.60,651.30L352.60,650.80L359.20,650.80L359.20,649.80L365.80,649.80L365.80,649.10L372.40,649.10L372.40,646.80L379.00,646.80L379.00,635.70L385.60,635.70L385.60,551.00L392.20,551.00L392.20,576.30L398.80,576.30L398.80,634.90L405.40,634.90L405.40,646.50L412.00,646.50L412.00,647.90L418.60,647.90L418.60,650.50L425.20,650.50L425.20,650.50L431.80,650.50L431.80,649.80L438.40,649.80L438.40,651.30L445.00,651.30L445.00,651.8Z" fill="#ff0000" fill-opacity="0.2"/>
<path d="M365.10,651.8L365.10,650.80L368.30,650.80L368.30,650.30L371.50,650.30L371.50,647.80L374.70,647.80L374.70,644.80L377.90,644.80L377.90,640.40L381.10,640.40L381.10,634.90L384.30,634.90L384.30,630.10L387.50,630.10L387.50,640.40L390.70,640.40L390.70,643.80L393.90,643.80L393.90,646.80L397.10,646.80L397.10,649.90L400.30,649.90L400.30,650.80L403.50,650.80L403.50,651.30L406.70,651.30L406.70,651.8Z" fill="#0000ff" fill-opacity="0.5"/>
<path d="M381.80,651.8L381.80,651.20L383.40,651.20L383.40,650.80L385.00,650.80L385.00,650.30L386.60,650.30L386.60,649.30L388.20,649.30L388.20,647.50L389.80,647.50L389.80,641.20L391.40,641.20L391.40,620.60L393.00,620.60L393.00,641.20L394.60,641.20L394.60,647.50L396.20,647.50L396.20,649.30L397.80,649.30L397.80,650.30L399.40,650.30L399.40,650.80L401.00,650.80L401.00,651.20L402.60,651.20L402.60,651.8Z" fill="#ff0000" fill-opacity="0.5"/>
</g>
<rect x="296.0" y="502.5" width="211.60" height="149.30" fill="none" stroke="#3c3c3c" stroke-width="1.1"/>
<line x1="292.20" y1="651.8" x2="296.0" y2="651.8" stroke="#3c3c3c" stroke-width="1.1"/>
<text x="281.69" y="656.20" font-size="11.6" textLength="6.45" lengthAdjust="spacingAndGlyphs" fill="#000">0</text>
<line x1="292.20" y1="623.1" x2="296.0" y2="623.1" stroke="#3c3c3c" stroke-width="1.1"/>
<text x="267.70" y="627.50" font-size="11.6" textLength="20.47" lengthAdjust="spacingAndGlyphs" fill="#000">100</text>
<line x1="292.20" y1="594.4" x2="296.0" y2="594.4" stroke="#3c3c3c" stroke-width="1.1"/>
<text x="267.63" y="598.80" font-size="11.6" textLength="20.55" lengthAdjust="spacingAndGlyphs" fill="#000">200</text>
<line x1="292.20" y1="565.6" x2="296.0" y2="565.6" stroke="#3c3c3c" stroke-width="1.1"/>
<text x="267.81" y="570.00" font-size="11.6" textLength="20.36" lengthAdjust="spacingAndGlyphs" fill="#000">300</text>
<line x1="292.20" y1="536.9" x2="296.0" y2="536.9" stroke="#3c3c3c" stroke-width="1.1"/>
<text x="267.70" y="541.30" font-size="11.6" textLength="20.48" lengthAdjust="spacingAndGlyphs" fill="#000">400</text>
<line x1="292.20" y1="508.2" x2="296.0" y2="508.2" stroke="#3c3c3c" stroke-width="1.1"/>
<text x="267.80" y="512.60" font-size="11.6" textLength="20.37" lengthAdjust="spacingAndGlyphs" fill="#000">500</text>
<line x1="326.8" y1="651.8" x2="326.8" y2="655.60" stroke="#3c3c3c" stroke-width="1.1"/>
<text x="313.89" y="668.60" font-size="11.6" textLength="25.81" lengthAdjust="spacingAndGlyphs" fill="#000">−0.1</text>
<line x1="392.0" y1="651.8" x2="392.0" y2="655.60" stroke="#3c3c3c" stroke-width="1.1"/>
<text x="383.50" y="668.60" font-size="11.6" textLength="16.99" lengthAdjust="spacingAndGlyphs" fill="#000">0.0</text>
<line x1="457.2" y1="651.8" x2="457.2" y2="655.60" stroke="#3c3c3c" stroke-width="1.1"/>
<text x="448.85" y="668.60" font-size="11.6" textLength="16.82" lengthAdjust="spacingAndGlyphs" fill="#000">0.1</text>
<text x="390.97" y="683.60" font-size="12.4" font-style="italic" textLength="7.40" lengthAdjust="spacingAndGlyphs" fill="#000">δ</text>
<text x="398.57" y="683.60" font-size="12.4" font-style="italic" textLength="7.19" lengthAdjust="spacingAndGlyphs" fill="#000">e</text>
<text x="406.77" y="685.40" font-size="8.6" textLength="4.76" lengthAdjust="spacingAndGlyphs" fill="#000">2</text>
<clipPath id="cp22"><rect x="547.6" y="502.5" width="211.79999999999995" height="149.29999999999995"/></clipPath>
<g clip-path="url(#cp22)">
<path d="M593.20,651.8L593.20,650.80L600.90,650.80L600.90,649.80L608.60,649.80L608.60,648.80L616.30,648.80L616.30,645.80L624.00,645.80L624.00,637.90L631.70,637.90L631.70,627.60L639.40,627.60L639.40,581.60L647.10,581.60L647.10,584.30L654.80,584.30L654.80,629.20L662.50,629.20L662.50,644.50L670.20,644.50L670.20,648.90L677.90,648.90L677.90,649.30L685.60,649.30L685.60,650.80L693.30,650.80L693.30,651.30L701.00,651.30L701.00,651.8Z" fill="#0000ff" fill-opacity="0.2"/>
<path d="M579.00,651.8L579.00,651.30L586.50,651.30L586.50,650.80L594.00,650.80L594.00,649.80L601.50,649.80L601.50,647.40L609.00,647.40L609.00,645.80L616.50,645.80L616.50,633.90L624.00,633.90L624.00,583.20L631.50,583.20L631.50,553.10L639.00,553.10L639.00,637.50L646.50,637.50L646.50,645.80L654.00,645.80L654.00,649.80L661.50,649.80L661.50,650.80L669.00,650.80L669.00,651.8Z" fill="#ff0000" fill-opacity="0.2"/>
<path d="M631.40,651.8L631.40,651.30L634.00,651.30L634.00,651.10L636.60,651.10L636.60,650.30L639.20,650.30L639.20,648.90L641.80,648.90L641.80,642.60L644.40,642.60L644.40,636.30L647.00,636.30L647.00,639.80L649.60,639.80L649.60,636.80L652.20,636.80L652.20,645.80L654.80,645.80L654.80,647.80L657.40,647.80L657.40,648.90L660.00,648.90L660.00,650.50L662.60,650.50L662.60,650.80L665.20,650.80L665.20,651.30L667.80,651.30L667.80,651.8Z" fill="#0000ff" fill-opacity="0.5"/>
<path d="M619.04,651.8L619.04,651.20L620.99,651.20L620.99,650.80L622.94,650.80L622.94,650.30L624.89,650.30L624.89,649.80L626.84,649.80L626.84,647.40L628.79,647.40L628.79,633.10L630.74,633.10L630.74,612.20L632.69,612.20L632.69,637.80L634.64,637.80L634.64,648.20L636.59,648.20L636.59,649.80L638.54,649.80L638.54,650.80L640.49,650.80L640.49,651.20L642.44,651.20L642.44,651.8Z" fill="#ff0000" fill-opacity="0.5"/>
</g>
<rect x="547.6" y="502.5" width="211.80" height="149.30" fill="none" stroke="#3c3c3c" stroke-width="1.1"/>
<line x1="543.80" y1="651.8" x2="547.6" y2="651.8" stroke="#3c3c3c" stroke-width="1.1"/>
<text x="533.29" y="656.20" font-size="11.6" textLength="6.45" lengthAdjust="spacingAndGlyphs" fill="#000">0</text>
<line x1="543.80" y1="624.7" x2="547.6" y2="624.7" stroke="#3c3c3c" stroke-width="1.1"/>
<text x="519.30" y="629.10" font-size="11.6" textLength="20.47" lengthAdjust="spacingAndGlyphs" fill="#000">100</text>
<line x1="543.80" y1="597.5" x2="547.6" y2="597.5" stroke="#3c3c3c" stroke-width="1.1"/>
<text x="519.23" y="601.90" font-size="11.6" textLength="20.55" lengthAdjust="spacingAndGlyphs" fill="#000">200</text>
<line x1="543.80" y1="570.4" x2="547.6" y2="570.4" stroke="#3c3c3c" stroke-width="1.1"/>
<text x="519.41" y="574.80" font-size="11.6" textLength="20.36" lengthAdjust="spacingAndGlyphs" fill="#000">300</text>
<line x1="543.80" y1="543.2" x2="547.6" y2="543.2" stroke="#3c3c3c" stroke-width="1.1"/>
<text x="519.30" y="547.60" font-size="11.6" textLength="20.48" lengthAdjust="spacingAndGlyphs" fill="#000">400</text>
<line x1="543.80" y1="516.1" x2="547.6" y2="516.1" stroke="#3c3c3c" stroke-width="1.1"/>
<text x="519.40" y="520.50" font-size="11.6" textLength="20.37" lengthAdjust="spacingAndGlyphs" fill="#000">500</text>
<line x1="572.6" y1="651.8" x2="572.6" y2="655.60" stroke="#3c3c3c" stroke-width="1.1"/>
<text x="559.73" y="668.60" font-size="11.6" textLength="25.76" lengthAdjust="spacingAndGlyphs" fill="#000">−0.2</text>
<line x1="631.8" y1="651.8" x2="631.8" y2="655.60" stroke="#3c3c3c" stroke-width="1.1"/>
<text x="623.30" y="668.60" font-size="11.6" textLength="16.99" lengthAdjust="spacingAndGlyphs" fill="#000">0.0</text>
<line x1="691.0" y1="651.8" x2="691.0" y2="655.60" stroke="#3c3c3c" stroke-width="1.1"/>
<text x="682.69" y="668.60" font-size="11.6" textLength="16.76" lengthAdjust="spacingAndGlyphs" fill="#000">0.2</text>
<line x1="750.0" y1="651.8" x2="750.0" y2="655.60" stroke="#3c3c3c" stroke-width="1.1"/>
<text x="741.44" y="668.60" font-size="11.6" textLength="17.00" lengthAdjust="spacingAndGlyphs" fill="#000">0.4</text>
<text x="632.86" y="685.20" font-size="12.4" font-style="italic" textLength="5.94" lengthAdjust="spacingAndGlyphs" fill="#000">δ</text>
<text x="639.24" y="685.20" font-size="12.4" font-style="italic" textLength="8.62" lengthAdjust="spacingAndGlyphs" fill="#000">R</text>
<text x="649.69" y="680.20" font-size="8.6" textLength="4.51" lengthAdjust="spacingAndGlyphs" fill="#000">2</text>
<text x="655.10" y="685.20" font-size="12.4" textLength="3.90" lengthAdjust="spacingAndGlyphs" fill="#000">/</text>
<text x="659.08" y="685.20" font-size="12.4" font-style="italic" textLength="7.75" lengthAdjust="spacingAndGlyphs" fill="#000">R</text>
<text x="668.40" y="680.20" font-size="8.6" textLength="5.61" lengthAdjust="spacingAndGlyphs" fill="#000">2</text>
<rect x="332.0" y="41.25" width="24.2" height="8.3" fill="#0000ff" fill-opacity="0.2"/>
<text x="365.85" y="49.70" font-size="12.0" textLength="129.45" lengthAdjust="spacingAndGlyphs" fill="#000">WebbPSF (all sample)</text>
<rect x="332.0" y="58.75" width="24.2" height="8.3" fill="#ff0000" fill-opacity="0.2"/>
<text x="364.82" y="67.20" font-size="12.0" textLength="121.00" lengthAdjust="spacingAndGlyphs" fill="#000">HybPSF (all sample)</text>
<rect x="589.25" y="41.25" width="24.2" height="8.3" fill="#0000ff" fill-opacity="0.5"/>
<text x="622.95" y="49.70" font-size="12.0" textLength="126.60" lengthAdjust="spacingAndGlyphs" fill="#000">WebbPSF (SNR&gt;100)</text>
<rect x="589.25" y="58.75" width="24.2" height="8.3" fill="#ff0000" fill-opacity="0.5"/>
<text x="621.94" y="67.20" font-size="12.0" textLength="116.86" lengthAdjust="spacingAndGlyphs" fill="#000">HybPSF (SNR&gt;100)</text>
<rect x="333.75" y="277.5" width="24.2" height="8.3" fill="#0000ff" fill-opacity="0.2"/>
<text x="367.45" y="285.95" font-size="12.0" textLength="130.36" lengthAdjust="spacingAndGlyphs" fill="#000">WebbPSF (all sample)</text>
<rect x="333.75" y="295.0" width="24.2" height="8.3" fill="#ff0000" fill-opacity="0.2"/>
<text x="366.42" y="303.45" font-size="12.0" textLength="120.64" lengthAdjust="spacingAndGlyphs" fill="#000">HybPSF (all sample)</text>
<rect x="589.25" y="277.5" width="24.2" height="8.3" fill="#0000ff" fill-opacity="0.5"/>
<text x="622.95" y="285.95" font-size="12.0" textLength="126.60" lengthAdjust="spacingAndGlyphs" fill="#000">WebbPSF (SNR&gt;100)</text>
<rect x="589.25" y="295.0" width="24.2" height="8.3" fill="#ff0000" fill-opacity="0.5"/>
<text x="621.94" y="303.45" font-size="12.0" textLength="116.86" lengthAdjust="spacingAndGlyphs" fill="#000">HybPSF (SNR&gt;100)</text>
<rect x="333.25" y="513.75" width="24.2" height="8.3" fill="#0000ff" fill-opacity="0.2"/>
<text x="367.45" y="522.20" font-size="12.0" textLength="129.61" lengthAdjust="spacingAndGlyphs" fill="#000">WebbPSF (all sample)</text>
<rect x="333.25" y="531.25" width="24.2" height="8.3" fill="#ff0000" fill-opacity="0.2"/>
<text x="366.43" y="539.70" font-size="12.0" textLength="120.14" lengthAdjust="spacingAndGlyphs" fill="#000">HybPSF (all sample)</text>
<rect x="588.25" y="513.75" width="24.2" height="8.3" fill="#0000ff" fill-opacity="0.5"/>
<text x="622.45" y="522.20" font-size="12.0" textLength="126.34" lengthAdjust="spacingAndGlyphs" fill="#000">WebbPSF (SNR&gt;100)</text>
<rect x="588.25" y="531.25" width="24.2" height="8.3" fill="#ff0000" fill-opacity="0.5"/>
<text x="621.44" y="539.70" font-size="12.0" textLength="116.35" lengthAdjust="spacingAndGlyphs" fill="#000">HybPSF (SNR&gt;100)</text>
</svg></body></html>
